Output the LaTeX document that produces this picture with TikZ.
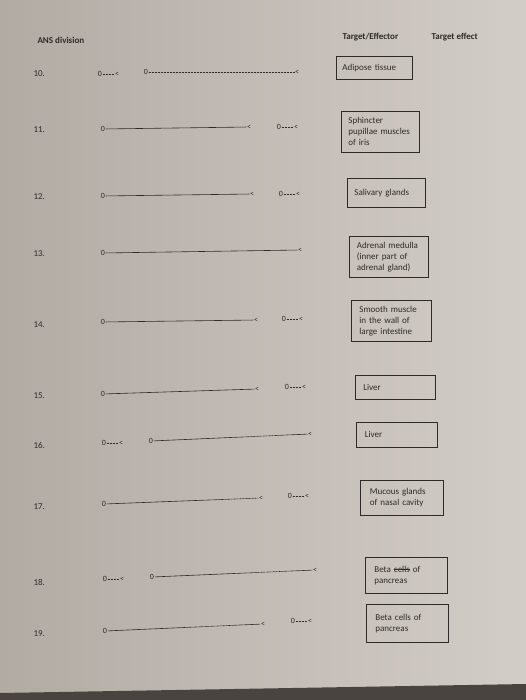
\documentclass[tikz,border=0pt]{standalone}
\usepackage{fontspec}
\setmainfont{Carlito}
\definecolor{ink}{HTML}{2E2A27}
\definecolor{paper}{HTML}{D3CDC7}
\definecolor{paperdark}{HTML}{B2ABA4}
\definecolor{tabletop}{HTML}{4A4440}
\newcommand\strikeout[1]{\setbox0\hbox{#1}\rlap{\rule[0.28em]{\wd0}{0.6pt}}#1}

\begin{document}
\begin{tikzpicture}[x=1pt, y=-1pt, font=\fontsize{9}{11}\selectfont,
	head/.style={anchor=west, font=\fontsize{9}{11}\selectfont\bfseries, text=ink},
	rowlab/.style={anchor=west, text=ink},
	syn/.style={inner sep=0.4pt, font=\fontsize{8}{8}\selectfont, text=ink},
	fibre/.style={draw=ink, line width=0.6pt, dash pattern=on 1.2pt off 0.3pt},
	effbox/.style 2 args={draw=ink, line width=0.8pt, anchor=north west, align=left,
		text width=64pt, inner xsep=5pt, minimum width=#1, minimum height=#2, text=ink}]
	%paper
	\useasboundingbox (0,0) rectangle (526,700);
	\shade[left color=paperdark, right color=paper] (0,0) rectangle (526,700);
	\fill[tabletop] (0,693) -- (526,684) -- (526,700) -- (0,700) -- cycle;
	%headings
	\node[head] (hdiv) at (34,40) {ANS division};
	\node[head] (htarget) at (339,37) {Target/Effector};
	\node[head] (heffect) at (428,37) {Target effect};
	%row numbers
	\foreach \n/\y in {
		10/74,
		11/130,
		12/197,
		13/254,
		14/325,
		15/396,
		16/445,
		17/507,
		18/582,
		19/634
	}
	\node[rowlab] (row\n) at (30,\y) {\n.};
	%long fibres
	\foreach \n/\xa/\ya/\xb/\yb in {
		10/146/72/297/72,
		11/103/129/249/127,
		12/103/196/252/194,
		13/103/253/300/250,
		14/103/322/256/320,
		15/103/394/257/389,
		16/151/441/310/434,
		17/104/504/261/498,
		18/152/577/315/570,
		19/105/631/263/624
	}{
		\node[syn] (lo\n) at (\xa,\ya) {0};
		\node[syn] (lt\n) at (\xb,\yb) {<};
		\draw[fibre] (lo\n) -- (lt\n);
	}
	%short fibres
	\foreach \n/\x/\y in {
		10/100/74,
		11/279/127,
		12/281/194,
		14/284/319,
		15/287/387,
		16/104/443,
		17/290/496,
		18/105/579,
		19/293/621
	}{
		\node[syn] (so\n) at (\x,\y) {0};
		\node[syn] (st\n) at (\x+17,\y) {<};
		\draw[fibre] (so\n) -- (st\n);
	}
	%targets
	\node[effbox={76pt}{23pt}] (t10) at (336,56) {Adipose tissue};
	\node[effbox={78pt}{41pt}] (t11) at (341,111) {Sphincter\\pupillae muscles\\of iris};
	\node[effbox={78pt}{29pt}] (t12) at (347,178) {Salivary glands};
	\node[effbox={79pt}{41pt}] (t13) at (349,236) {Adrenal medulla\\(inner part of\\adrenal gland)};
	\node[effbox={80pt}{41pt}] (t14) at (351,300) {Smooth muscle\\in the wall of\\large intestine};
	\node[effbox={80pt}{24pt}] (t15) at (355,375) {Liver};
	\node[effbox={81pt}{25pt}] (t16) at (356,422) {Liver};
	\node[effbox={83pt}{35pt}] (t17) at (360,480) {Mucous glands\\of nasal cavity};
	\node[effbox={82pt}{36pt}] (t18) at (365,557) {Beta \strikeout{cells} of\\pancreas};
	\node[effbox={82pt}{38pt}] (t19) at (366,604) {Beta cells of\\pancreas};
\end{tikzpicture}
\end{document}
